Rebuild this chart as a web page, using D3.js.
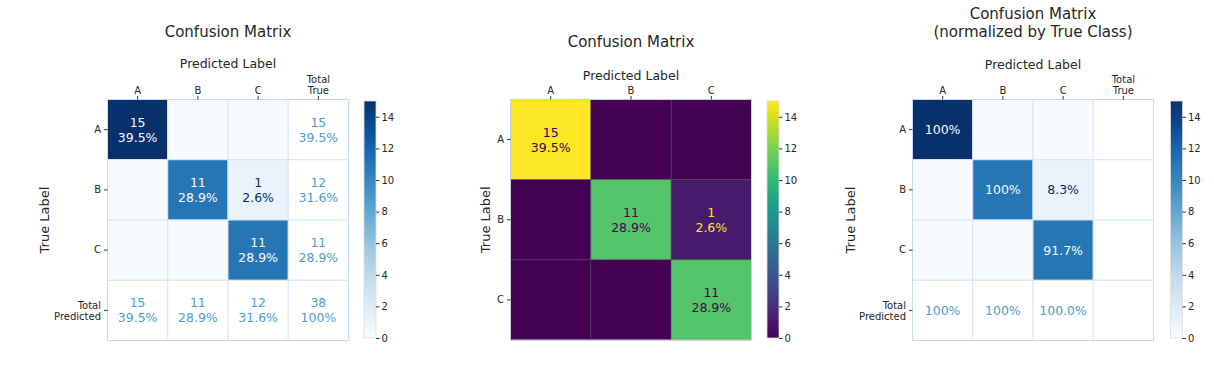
<!DOCTYPE html>
<meta charset="utf-8">
<style>
  body { margin: 0; background: #fff; }
  text { font-family: "DejaVu Sans", sans-serif; fill: #262626; }
  .tick text { font-size: 10px; }
  .cell text { font-size: 12.5px; text-anchor: middle; }
</style>
<svg width="1214" height="372"></svg>
<script src="https://d3js.org/d3.v7.min.js"></script>
<script>
// data
var classes = ["A", "B", "C"];
var counts = [[15, 0, 0], [0, 11, 1], [0, 0, 11]];
var countPct = [["39.5%", "", ""], ["", "28.9%", "2.6%"], ["", "", "28.9%"]];
var totalTrue = [15, 12, 11];
var totalTruePct = ["39.5%", "31.6%", "28.9%"];
var totalPred = [15, 11, 12];
var totalPredPct = ["39.5%", "28.9%", "31.6%"];
var grandTotal = [38, "100%"];
var normLabels = [["100%", "", ""], ["", "100%", "8.3%"], ["", "", "91.7%"]];
var normPredLabels = ["100%", "100%", "100.0%"];
var cbTicks = [0, 2, 4, 6, 8, 10, 12, 14];
var vmax = 15;

var svg = d3.select("svg");

// one panel: matrix + colorbar
function panel(o) {
  var g = svg.append("g");
  var cols = o.totals ? classes.concat(["Total\nTrue"]) : classes;
  var rows = o.totals ? classes.concat(["Total\nPredicted"]) : classes;

  var x = d3.scaleBand().domain(cols).range([o.x0, o.x1]);
  var y = d3.scaleBand().domain(rows).range([o.y0, o.y1]);
  var color = d3.scaleSequential(o.interp).domain([0, vmax]);

  // cells
  var cells = [];
  rows.forEach(function(r, i) {
    cols.forEach(function(c, j) {
      var d = { r: r, c: c, i: i, j: j };
      if (i < 3 && j < 3) {
        d.v = counts[i][j];
        d.fill = color(d.v);
        d.lines = o.label(i, j);
        d.txt = d.v > vmax / 2 ? o.interp(0) : o.interp(1);
      } else {
        d.fill = "#fff";
        d.lines = o.totalLabel(i, j);
        d.txt = "#4f9bcb";
      }
      cells.push(d);
    });
  });

  var cell = g.selectAll(".cell").data(cells).enter().append("g").attr("class", "cell");
  cell.append("rect")
    .attr("x", function(d) { return x(d.c); })
    .attr("y", function(d) { return y(d.r); })
    .attr("width", x.bandwidth())
    .attr("height", y.bandwidth())
    .attr("fill", function(d) { return d.fill; })
    .attr("stroke", o.grid)
    .attr("stroke-width", 1);

  cell.each(function(d) {
    var lines = d.lines.filter(function(s) { return s !== ""; });
    var cx = x(d.c) + x.bandwidth() / 2, cy = y(d.r) + y.bandwidth() / 2;
    var t = d3.select(this).append("text").style("fill", d.txt);
    lines.forEach(function(s, k) {
      t.append("tspan").attr("x", cx)
        .attr("y", cy + (k - (lines.length - 1) / 2) * 15)
        .attr("dy", "0.36em").text(s);
    });
  });

  g.append("rect")
    .attr("x", o.x0).attr("y", o.y0)
    .attr("width", o.x1 - o.x0).attr("height", o.y1 - o.y0)
    .attr("fill", "none").attr("stroke", o.border);

  // axes
  var ax = g.append("g").attr("transform", "translate(0," + o.y0 + ")")
    .call(d3.axisTop(x).tickSize(3.5).tickPadding(2));
  var ay = g.append("g").attr("transform", "translate(" + o.x0 + ",0)")
    .call(d3.axisLeft(y).tickSize(3.5).tickPadding(3));
  [ax, ay].forEach(function(a) {
    a.select(".domain").remove();
    a.selectAll(".tick line").attr("stroke", "#333");
  });
  ax.selectAll(".tick text").each(function(d) {
    var parts = d.split("\n"), t = d3.select(this).text(null);
    parts.forEach(function(p, k) {
      t.append("tspan").attr("x", 0).attr("dy", k ? "1.15em" : (-(parts.length - 1) * 1.15) + "em").text(p);
    });
  });
  ay.selectAll(".tick text").each(function(d) {
    var parts = d.split("\n"), t = d3.select(this).text(null);
    t.attr("dy", null);
    parts.forEach(function(p, k) {
      t.append("tspan").attr("x", -6.5)
        .attr("dy", k ? "1.1em" : (0.32 - (parts.length - 1) * 0.5) + "em").text(p);
    });
  });

  // titles
  o.title.forEach(function(s, k) {
    g.append("text").attr("x", (o.x0 + o.x1) / 2).attr("y", o.titleY + k * 18)
      .attr("text-anchor", "middle").attr("dy", "0.36em")
      .style("font-size", "15px").text(s);
  });
  g.append("text").attr("x", (o.x0 + o.x1) / 2).attr("y", o.predY)
    .attr("text-anchor", "middle").attr("dy", "0.36em")
    .style("font-size", "12.5px").text("Predicted Label");
  g.append("text")
    .attr("transform", "translate(" + o.trueX + "," + (o.y0 + o.y1) / 2 + ") rotate(-90)")
    .attr("text-anchor", "middle").attr("dy", "0.36em")
    .style("font-size", "13px").text("True Label");

  // colorbar
  var gid = "grad" + o.id;
  var grad = svg.append("defs").append("linearGradient").attr("id", gid)
    .attr("x1", 0).attr("y1", 1).attr("x2", 0).attr("y2", 0);
  d3.range(0, 1.0001, 0.05).forEach(function(t) {
    grad.append("stop").attr("offset", t).attr("stop-color", o.interp(t));
  });
  var cy = d3.scaleLinear().domain([0, vmax]).range([338, 101]);
  g.append("rect").attr("x", o.cbX).attr("y", 101).attr("width", 12).attr("height", 237)
    .attr("fill", "url(#" + gid + ")").attr("stroke", "#ddd").attr("stroke-width", 0.8);
  var cax = g.append("g").attr("transform", "translate(" + (o.cbX + 12) + ",0)")
    .call(d3.axisRight(cy).tickValues(cbTicks).tickSize(3.5).tickPadding(2));
  cax.select(".domain").remove();
  cax.selectAll(".tick line").attr("stroke", "#333");
}

panel({
  id: 1, x0: 107.5, x1: 348.5, y0: 99.5, y1: 340.5, totals: true,
  interp: d3.interpolateBlues, grid: "#d6e6f4", border: "#c6dbef",
  title: ["Confusion Matrix"], titleY: 31.5, predY: 63, trueX: 44, cbX: 364,
  label: function(i, j) { return counts[i][j] ? [String(counts[i][j]), countPct[i][j]] : []; },
  totalLabel: function(i, j) {
    if (i < 3) return [String(totalTrue[i]), totalTruePct[i]];
    if (j < 3) return [String(totalPred[j]), totalPredPct[j]];
    return [String(grandTotal[0]), grandTotal[1]];
  }
});

panel({
  id: 2, x0: 510.5, x1: 751.5, y0: 99.5, y1: 340, totals: false,
  interp: d3.interpolateViridis, grid: "rgba(70,70,90,0.45)", border: "#c4d0dc",
  title: ["Confusion Matrix"], titleY: 41.5, predY: 75.5, trueX: 485, cbX: 767,
  label: function(i, j) { return counts[i][j] ? [String(counts[i][j]), countPct[i][j]] : []; },
  totalLabel: function() { return []; }
});

panel({
  id: 3, x0: 912.5, x1: 1153.5, y0: 99.5, y1: 340.5, totals: true,
  interp: d3.interpolateBlues, grid: "#d6e6f4", border: "#c6dbef",
  title: ["Confusion Matrix", "(normalized by True Class)"], titleY: 14, predY: 64, trueX: 850, cbX: 1170.5,
  label: function(i, j) { return [normLabels[i][j]]; },
  totalLabel: function(i, j) { return (i === 3 && j < 3) ? [normPredLabels[j]] : []; }
});
</script>
